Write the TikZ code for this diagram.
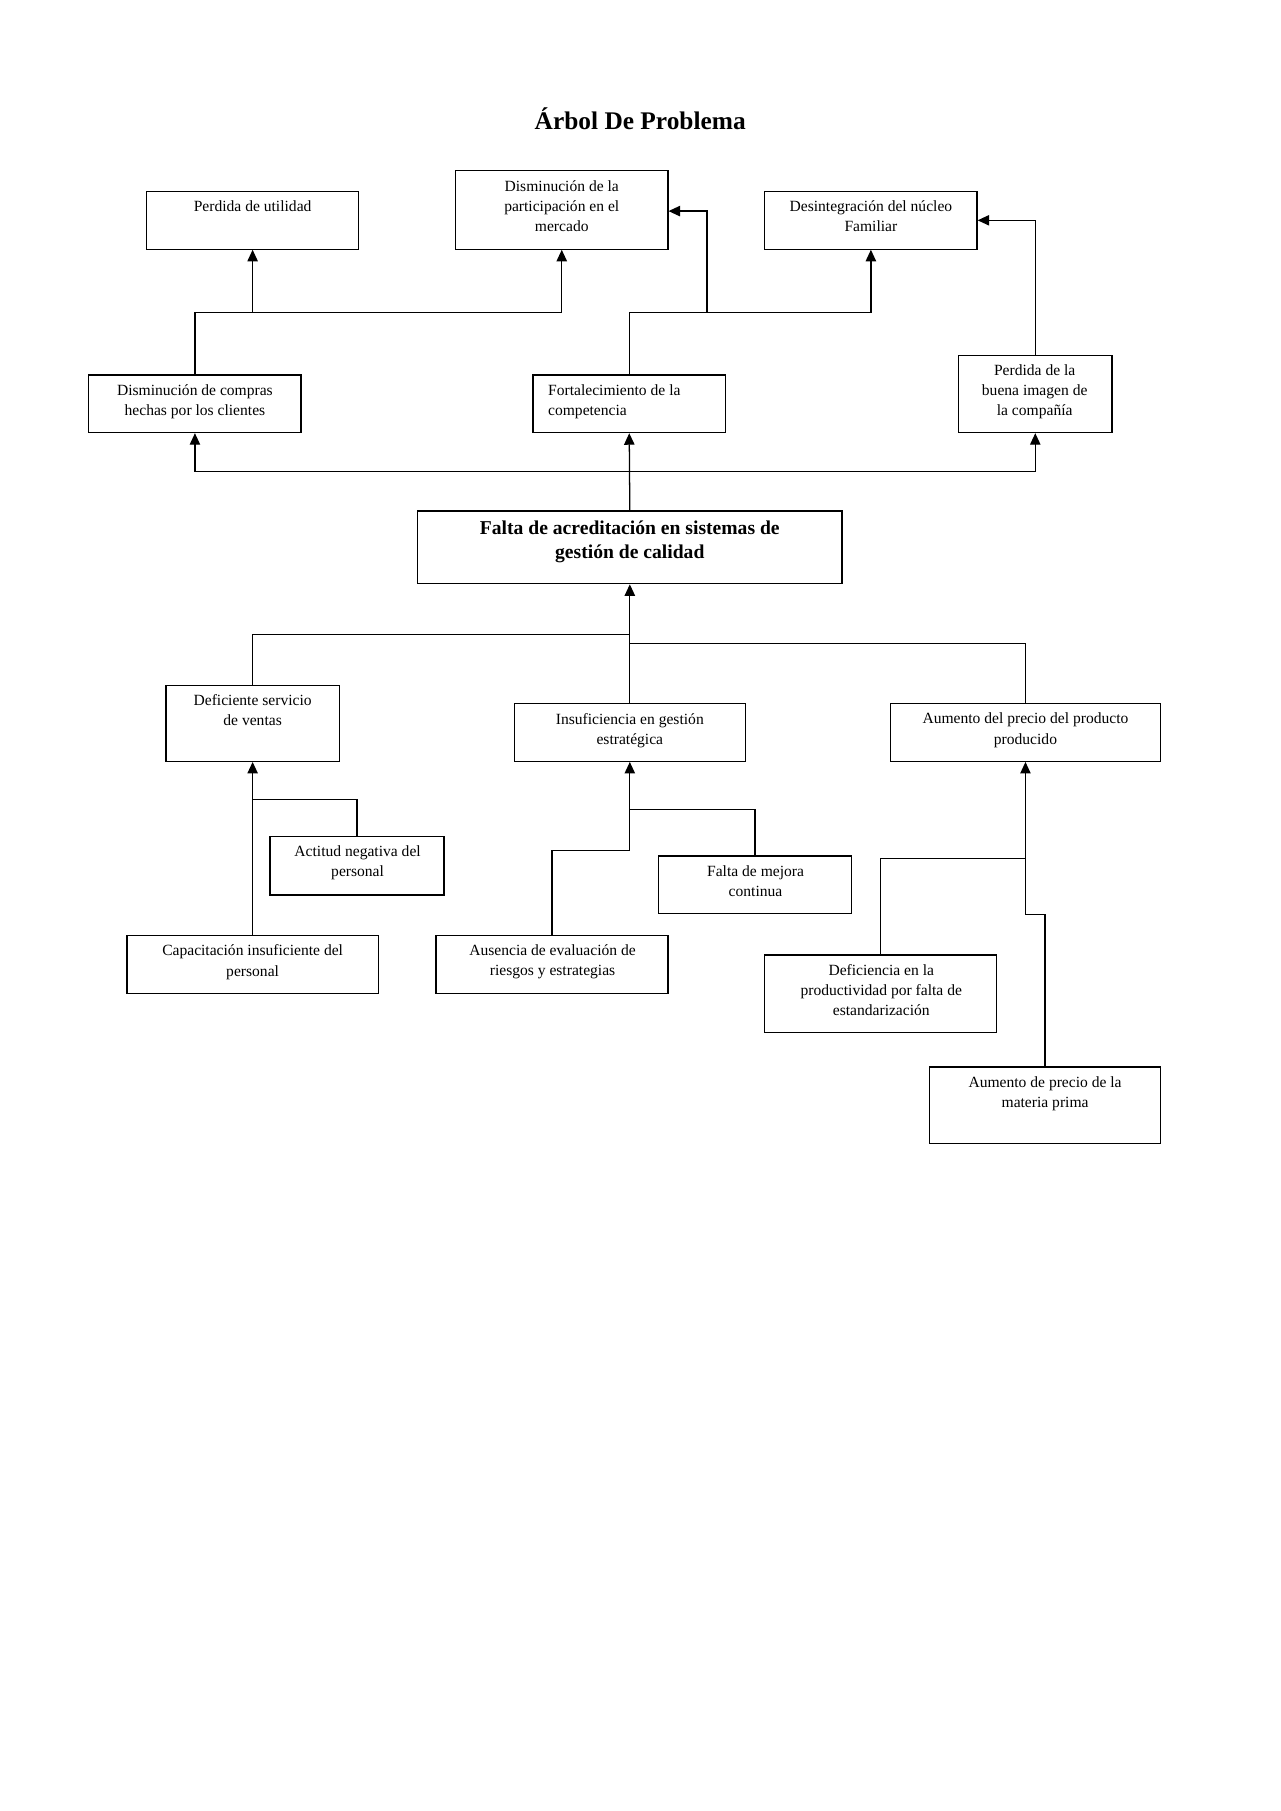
\documentclass[tikz,border=0pt]{standalone}
\usepackage{fontspec}
\setmainfont{Liberation Serif}
\usetikzlibrary{arrows.meta}
\begin{document}
\begin{tikzpicture}[x=1pt,y=-1pt,
  box/.style={draw,line width=1.1pt,inner sep=0pt},
  txt/.style={font=\fontsize{13.5}{17.5}\selectfont,align=center,anchor=north,inner sep=0pt},
  ln/.style={line width=1.1pt},
  ar/.style={ln,-{Triangle[length=10pt,width=9pt]}}]
\useasboundingbox (0,0) rectangle (1110,1570);
\newcommand{\bx}[5]{\node[box,minimum width=#4-#2,minimum height=#5-#3] (#1) at ({(#2+#4)/2},{(#3+#5)/2}) {};}
\node[font=\fontsize{22}{26}\selectfont\bfseries] (title) at (555,103) {Árbol De Problema};
% boxes
\bx{a1}{127}{166}{311}{216}\node[txt] at (219,174) {Perdida de utilidad};
\bx{a2}{395}{148}{579}{216}\node[txt] at (487,156) {Disminución de la\\participación en el\\mercado};
\bx{a3}{663}{166}{847}{216}\node[txt] at (755,174) {Desintegración del núcleo\\Familiar};
\bx{b1}{77}{325}{261}{375}\node[txt] at (169,333) {Disminución de compras\\hechas por los clientes};
\bx{b2}{462}{325}{629}{375}\node[txt,anchor=north west,align=left] at (475,333) {Fortalecimiento de la\\competencia};
\bx{b3}{831}{308}{964}{375}\node[txt] at (897,316) {Perdida de la\\buena imagen de\\la compañía};
\bx{m}{362}{443}{730}{506}\node[txt,font=\fontsize{17}{21.5}\selectfont\bfseries] at (546,451) {Falta de acreditación en sistemas de\\gestión de calidad};
\bx{c1}{144}{594}{294}{660}\node[txt] at (219,602) {Deficiente servicio\\de ventas};
\bx{c2}{446}{610}{646}{660}\node[txt] at (546,618) {Insuficiencia en gestión\\estratégica};
\bx{c3}{772}{610}{1006}{660}\node[txt] at (889,618) {Aumento del precio del producto\\producido};
\bx{d1}{234}{725}{385}{776}\node[txt] at (310,733) {Actitud negativa del\\personal};
\bx{d2}{110}{811}{328}{861}\node[txt] at (219,819) {Capacitación insuficiente del\\personal};
\bx{d3}{571}{742}{738}{792}\node[txt] at (655,750) {Falta de mejora\\continua};
\bx{d4}{378}{811}{579}{861}\node[txt] at (479,819) {Ausencia de evaluación de\\riesgos y estrategias};
\bx{d5}{663}{828}{864}{895}\node[txt] at (764,836) {Deficiencia en la\\productividad por falta de\\estandarización};
\bx{d6}{806}{925}{1006}{991}\node[txt] at (906,933) {Aumento de precio de la\\materia prima};
% junction coordinates
\coordinate (j1) at (219,271);
\coordinate (j2) at (613,271);
\coordinate (j3) at (546,409);
% top connectors
\draw[ar] (b1.north) |- (a2.south |- j1) -- (a2.south);
\draw[ar] (j1) -- (a1.south);
\draw[ar] (b2.north) |- (a3.south |- j1) -- (a3.south);
\draw[ar] (j2) |- (a2.east |- 0,183);
\draw[ar] (b3.north) |- (a3.east |- 0,191);
\draw[ar] (m.north) -- (b2.south);
\draw[ar] (j3) -| (b1.south);
\draw[ar] (j3) -| (b3.south);
% lower connectors
\draw[ar] (c2.north) -- (m.south);
\draw[ln] (c1.north) |- (546,550);
\draw[ln] (c3.north) |- (546,558);
\draw[ar] (d2.north) -- (c1.south);
\draw[ln] (d1.north) |- (219,693);
\draw[ar] (d4.north) |- (546,737) -- (c2.south);
\draw[ln] (d3.north) |- (546,702);
\draw[ar] (d5.north) |- (889,744) -- (c3.south);
\draw[ln] (d6.north) |- (889,793) -- (889,744);
\end{tikzpicture}
\end{document}
